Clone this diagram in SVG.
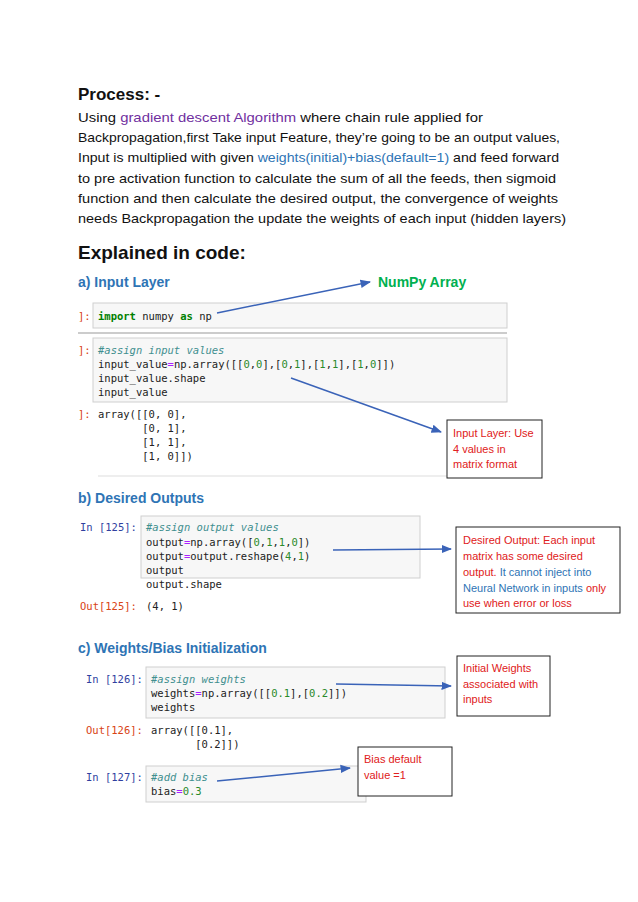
<svg xmlns="http://www.w3.org/2000/svg" width="638" height="902" viewBox="0 0 638 902">
<defs>
<marker id="ah" viewBox="0 0 10 10" refX="9" refY="5" markerWidth="7" markerHeight="7" orient="auto"><path d="M0,1 L10,5 L0,9 z" fill="#3a63b8"/></marker>
<style>
.t{font-family:"Liberation Sans",Arial,sans-serif;font-size:13.5px;fill:#111}
.h{font-family:"Liberation Sans",Arial,sans-serif;font-weight:bold;fill:#111}
.sub{font-family:"Liberation Sans",Arial,sans-serif;font-weight:bold;font-size:14px;fill:#2e74b5}
.c{font-family:"DejaVu Sans Mono",monospace;font-size:10.5px;fill:#222;white-space:pre}
.cm{fill:#3f8f8f;font-style:italic}
.kw{fill:#008000;font-weight:bold}
.n{fill:#2a8a2a}
.op{fill:#aa22ff}
.pi{font-family:"DejaVu Sans Mono",monospace;font-size:10.5px;fill:#303f9f}
.po{font-family:"DejaVu Sans Mono",monospace;font-size:10.5px;fill:#d84315}
.cell{fill:#f7f7f7;stroke:#cfcfcf;stroke-width:1}
.note{fill:#fff;stroke:#222;stroke-width:1}
.r{font-family:"Liberation Sans",Arial,sans-serif;font-size:11px;fill:#e02020}
.b{fill:#2e74b5}
.con{stroke:#3a63b8;stroke-width:1.5;fill:none;marker-end:url(#ah)}
</style>
</defs>
<rect width="638" height="902" fill="#fff"/>
<g id="intro">
<text class="h" x="78" y="100" font-size="17">Process: -</text>
<text class="t" x="78" y="122" textLength="405" lengthAdjust="spacingAndGlyphs">Using <tspan fill="#7030a0">gradient descent Algorithm</tspan> where chain rule applied for</text>
<text class="t" x="78" y="142" textLength="482" lengthAdjust="spacingAndGlyphs">Backpropagation,first Take input Feature, they’re going to be an output values,</text>
<text class="t" x="78" y="162" textLength="481" lengthAdjust="spacingAndGlyphs">Input is multiplied with given <tspan fill="#2e74b5">weights(initial)+bias(default=1)</tspan> and feed forward</text>
<text class="t" x="78" y="183" textLength="478" lengthAdjust="spacingAndGlyphs">to pre activation function to calculate the sum of all the feeds, then sigmoid</text>
<text class="t" x="78" y="203" textLength="480" lengthAdjust="spacingAndGlyphs">function and then calculate the desired output, the convergence of weights</text>
<text class="t" x="78" y="223" textLength="488" lengthAdjust="spacingAndGlyphs">needs Backpropagation the update the weights of each input (hidden layers)</text>
<text class="h" x="78" y="259" font-size="19">Explained in code:</text>
</g>
<g id="secA">
<text class="sub" x="78" y="287">a) Input Layer</text>
<text class="h" x="378" y="287" font-size="14" style="fill:#00b050">NumPy Array</text>
<rect class="cell" x="93" y="303" width="414" height="25"/>
<text class="po" x="78" y="320">]:</text>
<text class="c" x="98" y="320"><tspan class="kw">import</tspan> numpy <tspan class="kw">as</tspan> np</text>
<line x1="78" y1="333" x2="507" y2="333" stroke="#bbb" stroke-width="1.5"/>
<rect class="cell" x="93" y="338" width="414" height="64"/>
<text class="po" x="78" y="354">]:</text>
<text class="c" x="98" y="354"><tspan class="cm">#assign input values</tspan></text>
<text class="c" x="98" y="368">input_value<tspan class="op">=</tspan>np.array([[<tspan class="n">0</tspan>,<tspan class="n">0</tspan>],[<tspan class="n">0</tspan>,<tspan class="n">1</tspan>],[<tspan class="n">1</tspan>,<tspan class="n">1</tspan>],[<tspan class="n">1</tspan>,<tspan class="n">0</tspan>]])</text>
<text class="c" x="98" y="382">input_value.shape</text>
<text class="c" x="98" y="396">input_value</text>
<text class="po" x="78" y="418">]:</text>
<text class="c" x="98" y="418">array([[0, 0],</text>
<text class="c" x="98" y="432">       [0, 1],</text>
<text class="c" x="98" y="446">       [1, 1],</text>
<text class="c" x="98" y="460">       [1, 0]])</text>
<line x1="98" y1="476" x2="507" y2="476" stroke="#ddd" stroke-width="1"/>
</g>
<g id="noteInput">
<rect class="note" x="447" y="420" width="95" height="58"/>
<text class="r" x="453" y="437">Input Layer: Use</text>
<text class="r" x="453" y="453">4 values in</text>
<text class="r" x="453" y="468">matrix format</text>
</g>
<g id="secB">
<text class="sub" x="78" y="503">b) Desired Outputs</text>
<rect class="cell" x="141" y="516" width="279" height="62"/>
<text class="pi" x="80" y="531">In [125]:</text>
<text class="c" x="146" y="531"><tspan class="cm">#assign output values</tspan></text>
<text class="c" x="146" y="546">output<tspan class="op">=</tspan>np.array([<tspan class="n">0</tspan>,<tspan class="n">1</tspan>,<tspan class="n">1</tspan>,<tspan class="n">0</tspan>])</text>
<text class="c" x="146" y="560">output<tspan class="op">=</tspan>output.reshape(<tspan class="n">4</tspan>,<tspan class="n">1</tspan>)</text>
<text class="c" x="146" y="574">output</text>
<text class="c" x="146" y="588">output.shape</text>
<text class="po" x="80" y="610">Out[125]:</text>
<text class="c" x="146" y="610">(4, 1)</text>
</g>
<g id="noteDesired">
<rect class="note" x="456" y="527" width="164" height="86"/>
<text class="r" x="463" y="544">Desired Output: Each input</text>
<text class="r" x="463" y="560">matrix has some desired</text>
<text class="r" x="463" y="576">output. <tspan class="b">It cannot inject into</tspan></text>
<text class="r" x="463" y="592"><tspan class="b">Neural Network in inputs</tspan> only</text>
<text class="r" x="463" y="607">use when error or loss</text>
</g>
<g id="secC">
<text class="sub" x="78" y="653">c) Weights/Bias Initialization</text>
<rect class="cell" x="146" y="667" width="299" height="51"/>
<text class="pi" x="86" y="683">In [126]:</text>
<text class="c" x="151" y="683"><tspan class="cm">#assign weights</tspan></text>
<text class="c" x="151" y="697">weights<tspan class="op">=</tspan>np.array([[<tspan class="n">0.1</tspan>],[<tspan class="n">0.2</tspan>]])</text>
<text class="c" x="151" y="711">weights</text>
<text class="po" x="86" y="734">Out[126]:</text>
<text class="c" x="151" y="734">array([[0.1],</text>
<text class="c" x="151" y="748">       [0.2]])</text>
<rect class="cell" x="146" y="766" width="220" height="36"/>
<text class="pi" x="86" y="781">In [127]:</text>
<text class="c" x="151" y="781"><tspan class="cm">#add bias</tspan></text>
<text class="c" x="151" y="795">bias<tspan class="op">=</tspan><tspan class="n">0.3</tspan></text>
</g>
<g id="noteWeights">
<rect class="note" x="457" y="656" width="93" height="60"/>
<text class="r" x="463" y="672">Initial Weights</text>
<text class="r" x="463" y="688">associated with</text>
<text class="r" x="463" y="703">inputs</text>
</g>
<g id="noteBias">
<rect class="note" x="358" y="747" width="94" height="49"/>
<text class="r" x="364" y="763">Bias default</text>
<text class="r" x="364" y="779">value =1</text>
</g>
<g id="connectors">
<line class="con" x1="217" y1="313" x2="370" y2="282"/>
<line class="con" x1="291" y1="378" x2="441" y2="432"/>
<line class="con" x1="333" y1="550" x2="451" y2="549"/>
<line class="con" x1="336" y1="684" x2="451" y2="686"/>
<line class="con" x1="217" y1="781" x2="350" y2="768"/>
</g>
</svg>
